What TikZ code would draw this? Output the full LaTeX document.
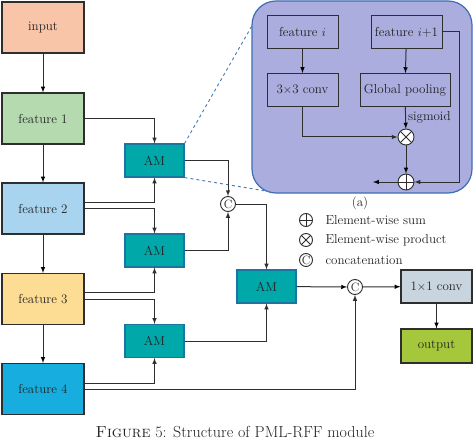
\documentclass[tikz,border=0pt]{standalone}
\usetikzlibrary{arrows,positioning}
\definecolor{LineGray}{HTML}{2E2E2E}
\definecolor{TextGray}{HTML}{222222}
\definecolor{InputFill}{HTML}{F9C5A9}
\definecolor{FeatOneFill}{HTML}{B5DAB0}
\definecolor{FeatTwoFill}{HTML}{A8D4EF}
\definecolor{FeatThreeFill}{HTML}{FDDC93}
\definecolor{FeatFourFill}{HTML}{17AEDF}
\definecolor{AMFill}{HTML}{00A8A9}
\definecolor{AMDraw}{HTML}{1B75A0}
\definecolor{ConvFill}{HTML}{C8D5DF}
\definecolor{OutFill}{HTML}{A5C73B}
\definecolor{PanelFill}{HTML}{AAADDD}
\definecolor{PanelDraw}{HTML}{3D6DB5}
\definecolor{DashBlue}{HTML}{4A7AB5}

\begin{document}
\begin{tikzpicture}[x=1pt, y=-1pt, >=latex, font=\fontsize{13}{15}\selectfont, text=TextGray,
	BoxStyle/.style = {shape=rectangle, draw=LineGray, line width=1.1pt, align=center, inner sep=1pt},
	FeatStyle/.style = {BoxStyle, minimum width=82pt, minimum height=51pt},
	AMStyle/.style = {BoxStyle, draw=AMDraw, fill=AMFill, minimum width=59pt, minimum height=33pt},
	InBoxStyle/.style = {BoxStyle, line width=0.9pt, minimum width=71pt, minimum height=33pt},
	OpStyle/.style = {shape=circle, draw=LineGray, line width=0.9pt, fill=white, minimum size=16pt, inner sep=0pt},
	SumStyle/.style = {OpStyle, path picture={\draw[line width=0.9pt] (path picture bounding box.north) -- (path picture bounding box.south) (path picture bounding box.west) -- (path picture bounding box.east);}},
	ProdStyle/.style = {OpStyle, path picture={\draw[line width=0.9pt] (path picture bounding box.north west) -- (path picture bounding box.south east) (path picture bounding box.north east) -- (path picture bounding box.south west);}},
	CatStyle/.style = {OpStyle, minimum size=15pt, font=\fontsize{12}{13}\selectfont},
	LinkStyle/.style = {->, draw=LineGray, line width=1pt}]
	\useasboundingbox (0,0) rectangle (474,441);

	% main column
	\node[FeatStyle, fill=InputFill] (input) at (43,27.5) {input};
	\node[FeatStyle, fill=FeatOneFill] (feat1) at (43,118.5) {feature 1};
	\node[FeatStyle, fill=FeatTwoFill] (feat2) at (43,208.5) {feature 2};
	\node[FeatStyle, fill=FeatThreeFill] (feat3) at (43,299) {feature 3};
	\node[FeatStyle, fill=FeatFourFill] (feat4) at (43,389) {feature 4};

	\node[AMStyle] (am1) at (154.5,160.5) {AM};
	\node[AMStyle] (am2) at (154.5,250.5) {AM};
	\node[AMStyle] (am3) at (154.5,341) {AM};
	\node[AMStyle] (am4) at (266.5,286.5) {AM};

	\node[CatStyle] (cat1) at (228,204) {C};
	\node[CatStyle] (cat2) at (355,287) {C};

	\node[BoxStyle, fill=ConvFill, minimum width=71pt, minimum height=33pt] (conv) at (436.5,286.5) {1$\times$1 conv};
	\node[BoxStyle, fill=OutFill, minimum width=71pt, minimum height=34pt] (out) at (436.5,346) {output};

	% inset (a)
	\draw[draw=PanelDraw, fill=PanelFill, line width=1.2pt, rounded corners=24pt] (252,1) rectangle (472,193);
	\node[InBoxStyle] (fi) at (302.5,32) {feature $i$};
	\node[InBoxStyle] (fi1) at (406.5,32) {feature $i$+1};
	\node[InBoxStyle] (conv3) at (302.5,90) {3$\times$3 conv};
	\node[InBoxStyle, minimum width=90pt] (gpool) at (405,90) {Global pooling};
	\node[ProdStyle] (prod) at (406,137) {};
	\node[SumStyle] (sum) at (406,182) {};
	\coordinate (turn) at (459,32);
	\coordinate (aout) at (373,182);
	\node (alabel) at (360,203) {(a)};

	\coordinate (dashA) at (253,24);
	\coordinate (dashB) at (272,192);
	\draw[draw=DashBlue, dashed, line width=0.9pt] (am1.north east) -- (dashA) (am1.south east) -- (dashB);

	% legend
	\node[SumStyle, minimum size=13pt] (lsum) at (306,220) {};
	\node[ProdStyle, minimum size=13pt] (lprod) at (306,240) {};
	\node[CatStyle, minimum size=13pt] (lcat) at (306,260) {C};
	\node[anchor=west] (tsum) at (322,220) {Element-wise sum};
	\node[anchor=west] (tprod) at (322,240) {Element-wise product};
	\node[anchor=west] (tcat) at (322,260) {concatenation};

	\node[anchor=base, font=\fontsize{16}{18}\selectfont] (caption) at (235,437) {\textsc{Figure} 5: Structure of PML-RFF module};

	\path[LinkStyle]
		(input) edge (feat1)
		(feat1) edge (feat2)
		(feat2) edge (feat3)
		(feat3) edge (feat4)
		(am4) edge (cat2)
		(cat2) edge (conv)
		(conv) edge (out)
		(fi) edge (conv3)
		(fi1) edge (gpool)
		(gpool) edge node[right, inner sep=2pt] {sigmoid} (prod)
		(prod) edge (sum)
		(sum) edge (aout)
	;
	\draw[LinkStyle] (feat1) -| (am1);
	\draw[LinkStyle] ([yshift=6.5pt]feat2.east) -| (am1.south);
	\draw[LinkStyle] (feat2) -| (am2);
	\draw[LinkStyle] ([yshift=7pt]feat3.east) -| (am2.south);
	\draw[LinkStyle] (feat3) -| (am3);
	\draw[LinkStyle] ([yshift=6pt]feat4.east) -| (am3.south);
	\draw[LinkStyle] (feat4) -| (cat2);
	\draw[LinkStyle] (am1) -| (cat1);
	\draw[LinkStyle] (am2) -| (cat1);
	\draw[LinkStyle] (cat1) -| (am4);
	\draw[LinkStyle] (am3) -| (am4);
	\draw[LinkStyle] (conv3) |- (prod);
	\draw[LinkStyle] (fi1) -- (turn) |- (sum);
\end{tikzpicture}
\end{document}
